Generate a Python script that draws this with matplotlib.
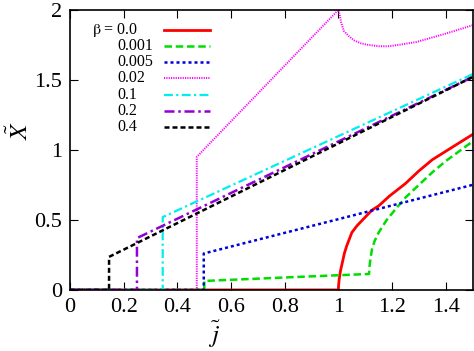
import numpy as np
import matplotlib as mpl
import matplotlib.pyplot as plt

mpl.use("Agg")
plt.rcParams.update(
    {
        "font.family": "serif",
        "font.serif": ["Liberation Serif"],
        "mathtext.fontset": "stix",
        "font.size": 16,
        "xtick.direction": "in",
        "ytick.direction": "in",
        "xtick.top": True,
        "ytick.right": True,
        "xtick.major.size": 6,
        "ytick.major.size": 6,
        "axes.linewidth": 1.2,
    }
)

BETAS = ["0.0", "0.001", "0.005", "0.02", "0.1", "0.2", "0.4"]
COLORS = ["#ff0000", "#00dd00", "#0000dd", "#ff00ff", "#00eeee", "#9400d3", "#000000"]

# beta = 0.0
x_b0 = [0, 1.0, 1.0, 1.003, 1.008, 1.014, 1.022, 1.03, 1.04, 1.05, 1.07, 1.09, 1.11, 1.125,
        1.15, 1.19, 1.25, 1.3, 1.35, 1.4, 1.45, 1.5]
y_b0 = [0, 0, 0.02, 0.08, 0.14, 0.19, 0.26, 0.31, 0.36, 0.41, 0.46, 0.50, 0.54, 0.57,
        0.60, 0.67, 0.76, 0.85, 0.93, 0.99, 1.05, 1.11]
# beta = 0.001
x_b1 = [0, 0.5, 0.5, 0.85, 1.114, 1.116, 1.12, 1.125, 1.135, 1.15, 1.18, 1.21, 1.25, 1.3,
        1.35, 1.4, 1.45, 1.5]
y_b1 = [0, 0, 0.064, 0.093, 0.114, 0.17, 0.23, 0.29, 0.35, 0.41, 0.50, 0.57, 0.66, 0.75,
        0.84, 0.92, 0.99, 1.06]
# beta = 0.005
x_b2 = [0, 0.498, 0.498, 1.5]
y_b2 = [0, 0, 0.26, 0.75]
# beta = 0.02
x_b3 = [0, 0.472, 0.472, 1.0, 1.005, 1.01, 1.02, 1.04, 1.06, 1.085, 1.11, 1.15, 1.19,
        1.225, 1.29, 1.4, 1.5]
y_b3 = [0, 0, 0.95, 2.0, 1.96, 1.91, 1.85, 1.81, 1.78, 1.76, 1.75, 1.74, 1.74,
        1.75, 1.77, 1.83, 1.89]
# beta = 0.1
x_b4 = [0, 0.345, 0.345, 1.5]
y_b4 = [0, 0, 0.52, 1.54]
# beta = 0.2
x_b5 = [0, 0.249, 0.249, 1.5]
y_b5 = [0, 0, 0.37, 1.52]
# beta = 0.4
x_b6 = [0, 0.145, 0.145, 1.5]
y_b6 = [0, 0, 0.236, 1.52]

XS = [x_b0, x_b1, x_b2, x_b3, x_b4, x_b5, x_b6]
YS = [y_b0, y_b1, y_b2, y_b3, y_b4, y_b5, y_b6]

STYLES = [
    "-",
    (0, (3, 1.5)),
    (0, (1.2, 1.2)),
    (0, (0.6, 0.6)),
    (0, (4, 1.5, 1, 1.5)),
    (0, (4, 1.5, 1, 1.5)),
    (0, (2, 1.2)),
]
WIDTHS = [2.0, 1.8, 1.8, 1.4, 1.6, 1.8, 1.8]

fig = plt.figure(figsize=(4.74, 3.51), dpi=100)
ax = fig.add_axes([0.148, 0.174, 0.849, 0.798])

for xs, ys, c, ls, lw in zip(XS, YS, COLORS, STYLES, WIDTHS):
    ax.plot(xs, ys, color=c, linestyle=ls, linewidth=lw)

ax.set_xlim(0, 1.5)
ax.set_ylim(0, 2)
ax.set_xticks(np.arange(0, 1.41, 0.2))
ax.set_xticklabels(["0", "0.2", "0.4", "0.6", "0.8", "1", "1.2", "1.4"])
ax.set_yticks([0, 0.5, 1, 1.5, 2])
ax.set_yticklabels(["0", "0.5", "1", "1.5", "2"])
ax.tick_params(axis="x", pad=6)
ax.tick_params(axis="y", pad=6)

ax.set_xlabel(r"$\tilde{j}$", fontsize=18, va="center")
ax.xaxis.set_label_coords(0.36, -0.16)
ax.set_ylabel(r"$\tilde{X}$", fontsize=18, va="center")
ax.yaxis.set_label_coords(-0.125, 0.57)

# legend, gnuplot style: text left of sample line
row_y = 0.929
for i, (b, c, ls, lw) in enumerate(zip(BETAS, COLORS, STYLES, WIDTHS)):
    y = row_y - i * 0.058
    if i == 0:
        ax.text(0.055, y, r"$\mathrm{\beta}$ = " + b, transform=ax.transAxes,
                fontsize=11.5, va="center", ha="left")
    else:
        ax.text(0.117, y, b, transform=ax.transAxes, fontsize=11.5, va="center", ha="left")
    ax.plot([0.233, 0.347], [y, y], transform=ax.transAxes, color=c,
            linestyle=ls, linewidth=lw)

fig.savefig("out.png", dpi=100)
